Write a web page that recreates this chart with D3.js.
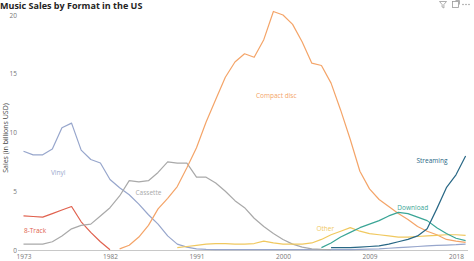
<!DOCTYPE html>
<html>
<head>
<meta charset="utf-8">
<script src="https://cdn.jsdelivr.net/npm/d3@7"></script>
<style>
  body { margin: 0; background: #fff; }
  text { font-family: "Open Sans", "Segoe UI", sans-serif; }
</style>
</head>
<body>
<div id="chart"></div>
<script>
// years on the x axis
var years = d3.range(1973, 2020);
var tickYears = [1973, 1982, 1991, 2000, 2009, 2018];
var tickValues = [0, 5, 10, 15, 20];

// sales in billions USD, one value per year (null = no sales recorded)
var vinyl = [8.4, 8.1, 8.1, 8.6, 10.4, 10.8, 8.5, 7.7, 7.4, 6.0,
  5.3, 4.7, 3.9, 3.0, 2.2, 1.2, 0.5, 0.25, 0.1, 0.05,
  0.04, 0.04, 0.04, 0.04, 0.04, 0.04, 0.04, 0.04, 0.04, 0.03,
  0.03, 0.03, 0.03, 0.03, 0.03, 0.05, 0.08, 0.1, 0.15, 0.2,
  0.25, 0.3, 0.35, 0.4, 0.42, 0.45, 0.5];
var eightTrack = [2.9, 2.85, 2.8, 3.1, 3.4, 3.7, 2.4, 1.5, 0.7, 0.02,
  null, null, null, null, null, null, null, null, null, null,
  null, null, null, null, null, null, null, null, null, null,
  null, null, null, null, null, null, null, null, null, null,
  null, null, null, null, null, null, null];
var cassette = [0.5, 0.5, 0.5, 0.7, 1.2, 1.8, 2.1, 2.2, 2.9, 3.6,
  4.6, 5.9, 5.8, 5.9, 6.6, 7.5, 7.4, 7.4, 6.2, 6.2,
  5.7, 5.0, 4.2, 3.6, 2.7, 2.0, 1.4, 0.9, 0.5, 0.25,
  0.1, 0.05, 0.02, null, null, null, null, null, null, null,
  null, null, null, null, null, null, null];
var compactDisc = [null, null, null, null, null, null, null, null, null, null,
  0.1, 0.4, 1.1, 2.1, 3.5, 4.4, 5.4, 7.0, 8.7, 10.9,
  12.8, 14.7, 16.0, 16.7, 16.4, 17.9, 20.3, 20.0, 19.2, 17.7,
  15.9, 15.7, 14.2, 11.9, 9.4, 6.7, 5.2, 4.3, 3.7, 3.1,
  2.6, 2.0, 1.6, 1.3, 0.9, 0.75, 0.65];
var other = [null, null, null, null, null, null, null, null, null, null,
  null, null, null, null, null, null, 0.2, 0.3, 0.4, 0.5,
  0.55, 0.55, 0.5, 0.5, 0.55, 0.75, 0.6, 0.5, 0.5, 0.5,
  0.6, 0.9, 1.3, 1.6, 1.9, 1.6, 1.4, 1.3, 1.2, 1.1,
  1.1, 1.15, 1.2, 1.25, 1.3, 1.3, 1.25];
var download = [null, null, null, null, null, null, null, null, null, null,
  null, null, null, null, null, null, null, null, null, null,
  null, null, null, null, null, null, null, null, null, null,
  null, 0.2, 0.6, 1.1, 1.5, 1.9, 2.2, 2.5, 2.9, 3.2,
  3.1, 2.8, 2.5, 1.9, 1.4, 1.0, 0.8];
var streaming = [null, null, null, null, null, null, null, null, null, null,
  null, null, null, null, null, null, null, null, null, null,
  null, null, null, null, null, null, null, null, null, null,
  null, null, 0.2, 0.2, 0.2, 0.25, 0.3, 0.35, 0.5, 0.7,
  0.9, 1.2, 1.8, 3.5, 5.3, 6.4, 8.0];

var seriesNames = ["Vinyl", "8-Track", "Cassette", "Compact disc", "Other", "Download", "Streaming"];
var seriesValues = [vinyl, eightTrack, cassette, compactDisc, other, download, streaming];
var seriesColors = ["#97a6cc", "#e0614e", "#a9a9a9", "#f4a468", "#f0c85f", "#3aa596", "#286785"];
// where each line label sits: [year, value]
var labelSpots = [[1976.6, 6.6], [1974.2, 1.6], [1986, 4.9], [1999.3, 13.1], [2004.4, 1.8], [2013.5, 3.6], [2015.5, 7.6]];

var width = 474, height = 261;

var svg = d3.select("#chart")
  .append("svg")
    .attr("width", width)
    .attr("height", height);

var x = d3.scaleLinear()
  .domain([1973, 2018])
  .range([23.5, 456]);

var y = d3.scaleLinear()
  .domain([0, 20])
  .range([250, 15]);

// title
svg.append("text")
  .attr("x", 0)
  .attr("y", 8.5)
  .style("font-size", "9px")
  .style("font-weight", "bold")
  .style("fill", "#252423")
  .text("Music Sales by Format in the US");

// header icons (filter, focus, more)
var icons = svg.append("g").attr("fill", "none").attr("stroke", "#9a9a9a").attr("stroke-width", 0.8);
icons.append("path").attr("d", "M439.5,1.5 h7 l-2.6,3 v3.5 l-1.8,-1 v-2.5 z");
icons.append("rect").attr("x", 452.5).attr("y", 1.5).attr("width", 6).attr("height", 6);
icons.append("path").attr("d", "M455.5,0.5 h4 v4");
svg.append("g").selectAll("circle")
  .data([463, 466, 469])
  .enter()
  .append("circle")
    .attr("cx", function(d) { return d; })
    .attr("cy", 4.5)
    .attr("r", 0.7)
    .attr("fill", "#8a8a8a");

// x axis
var xAxis = svg.append("g")
  .attr("transform", "translate(0,250)")
  .call(d3.axisBottom(x).tickValues(tickYears).tickFormat(d3.format("d")).tickSize(0).tickPadding(4));
xAxis.select(".domain").attr("stroke", "#c8c8c8").attr("d", "M18,0.5H468");
xAxis.selectAll("text").style("font-size", "6.5px").style("fill", "#777");

// y axis
var yAxis = svg.append("g")
  .attr("transform", "translate(18,0)")
  .call(d3.axisLeft(y).tickValues(tickValues).tickSize(0).tickPadding(1));
yAxis.select(".domain").remove();
yAxis.selectAll("text").style("font-size", "6.5px").style("fill", "#777");

// y axis title
svg.append("text")
  .attr("transform", "rotate(-90)")
  .attr("x", -138)
  .attr("y", 8)
  .attr("text-anchor", "middle")
  .style("font-size", "7px")
  .style("fill", "#444")
  .text("Sales (in billions USD)");

// lines
var line = d3.line()
  .defined(function(d) { return d.v != null; })
  .x(function(d) { return x(d.year); })
  .y(function(d) { return y(d.v); });

seriesValues.forEach(function(vals, i) {
  var pts = years.map(function(yr, j) { return {year: yr, v: vals[j]}; });
  svg.append("path")
    .datum(pts)
    .attr("fill", "none")
    .attr("stroke", seriesColors[i])
    .attr("stroke-width", 1.2)
    .attr("stroke-linejoin", "round")
    .attr("d", line);
});

// line labels
seriesNames.forEach(function(name, i) {
  svg.append("text")
    .attr("x", x(labelSpots[i][0]))
    .attr("y", y(labelSpots[i][1]))
    .attr("text-anchor", "middle")
    .attr("dy", "0.35em")
    .style("font-size", "6.5px")
    .style("fill", seriesColors[i])
    .text(name);
});
</script>
</body>
</html>
